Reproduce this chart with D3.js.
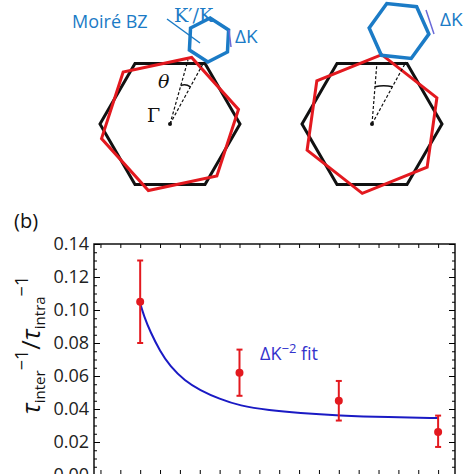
<!DOCTYPE html>
<html><head><meta charset="utf-8">
<script src="https://cdn.jsdelivr.net/npm/d3@7"></script>
<style>body{margin:0;background:#fff}</style></head>
<body><div id="wrapper"></div>
<script>
// data
const dk = [1, 2, 3, 4]
const ratio = [0.105, 0.062, 0.045, 0.026]
const errLo = [0.080, 0.048, 0.033, 0.017]
const errHi = [0.130, 0.076, 0.057, 0.036]
const fitX = [1, 1.04, 1.1, 1.2, 1.3, 1.45, 1.6, 1.8, 2.0, 2.3, 2.6, 3, 3.5, 4]
const fitY = [0.104, 0.096, 0.087, 0.075, 0.066, 0.057, 0.0515, 0.046, 0.042, 0.0392, 0.0375, 0.036, 0.035, 0.0345]
const yTicks = [0, 0.02, 0.04, 0.06, 0.08, 0.10, 0.12, 0.14]

const W = 474, H = 474
const svg = d3.select("#wrapper").append("svg").attr("width", W).attr("height", H)

// ---- panel (a) diagrams
function hexPts(cx, cy, r, rotDeg) {
    return d3.range(6).map(i => {
        const a = (i * 60 - rotDeg) * Math.PI / 180
        return [cx + r * Math.cos(a), cy + r * Math.sin(a)]
    })
}
function hex(cx, cy, r, rot, color, w) {
    svg.append("polygon").attr("points", hexPts(cx, cy, r, rot).join(" "))
        .attr("fill", "none").attr("stroke", color).attr("stroke-width", w).attr("stroke-linejoin", "miter")
}
const red = "#e3191f", blue = "#1b7bc6"
const diagrams = [
    {cx: 170, cy: 124, rot: 12, bx: 209, by: 40, br: 22, brot: 27, d1: [188, 60], d2: [204, 62]},
    {cx: 372, cy: 124, rot: 22, bx: 399, by: 31, br: 30, brot: -6, d1: [377, 62], d2: [406, 62]}
]
diagrams.forEach(d => {
    hex(d.cx, d.cy, 70, 0, "#111", 3)
    hex(d.cx, d.cy, 70, d.rot, red, 3)
    hex(d.bx, d.by, d.br, d.brot, blue, 3.5)
    ;[d.d1, d.d2].forEach(p => svg.append("line").attr("x1", d.cx).attr("y1", d.cy)
        .attr("x2", p[0]).attr("y2", p[1]).attr("stroke", "#111").attr("stroke-dasharray", "3,2").attr("stroke-width", 1.2))
    svg.append("circle").attr("cx", d.cx).attr("cy", d.cy).attr("r", 2).attr("fill", "#111")
    const ax = d.cx + (d.d1[0] - d.cx) * 0.6, ay = d.cy + (d.d1[1] - d.cy) * 0.6
    const bx = d.cx + (d.d2[0] - d.cx) * 0.6, by = d.cy + (d.d2[1] - d.cy) * 0.6
    svg.append("path").attr("d", `M${ax},${ay} Q${(ax + bx) / 2},${ay - 2} ${bx},${by}`)
        .attr("fill", "none").attr("stroke", "#111").attr("stroke-width", 1.5)
})
// ΔK arrows
svg.append("line").attr("x1", 229).attr("y1", 30).attr("x2", 231).attr("y2", 47).attr("stroke", "#6a6ad8").attr("stroke-width", 1.5)
svg.append("line").attr("x1", 426).attr("y1", 10).attr("x2", 434).attr("y2", 34).attr("stroke", "#6a6ad8").attr("stroke-width", 1.5)
svg.append("line").attr("x1", 167).attr("y1", 19).attr("x2", 200).attr("y2", 43).attr("stroke", blue).attr("stroke-width", 1.5)

const txt = (x, y, s, opt = {}) => svg.append("text").attr("x", x).attr("y", y).text(s)
    .attr("font-family", opt.ff || "Open Sans, sans-serif").attr("font-size", opt.fs || 16)
    .attr("fill", opt.fill || "#111").attr("font-style", opt.it ? "italic" : null)
txt(72, 28, "Moiré BZ", {fill: blue, fs: 18})
txt(174, 22, "K′/K", {fill: blue, fs: 19, ff: "DejaVu Serif, serif"})
txt(235, 43, "ΔK", {fill: blue, fs: 19})
txt(440, 26, "ΔK", {fill: blue, fs: 19})
txt(158, 88, "θ", {fs: 19, it: true, ff: "DejaVu Serif, serif"})
txt(147, 122, "Γ", {fs: 19, ff: "DejaVu Serif, serif"})
txt(14, 228, "(b)", {fs: 20})

// ---- panel (b) plot
const pLeft = 94, pRight = 455, pTop = 244
const x = d3.scaleLinear().domain([0.535, 4.17]).range([pLeft, pRight])
const y = d3.scaleLinear().domain([0, 0.14]).range([475, pTop])
const g = svg.append("g")
g.append("rect").attr("x", pLeft).attr("y", pTop).attr("width", pRight - pLeft).attr("height", 475 - pTop)
    .attr("fill", "none").attr("stroke", "#111").attr("stroke-width", 1.5)
g.append("g").attr("transform", `translate(${pLeft},0)`)
    .call(d3.axisLeft(y).tickValues(yTicks).tickFormat(d3.format(".2f")).tickSize(-6).tickPadding(5))
    .call(a => a.select(".domain").remove())
    .selectAll("text").attr("font-size", 18).attr("font-family", "Open Sans, sans-serif").attr("fill", "#222")
g.append("g").attr("transform", `translate(${pLeft},0)`)
    .call(d3.axisLeft(y).ticks(28).tickFormat("").tickSize(-3)).call(a => a.select(".domain").remove())
g.append("g").attr("transform", `translate(${pRight},0)`)
    .call(d3.axisRight(y).tickValues(yTicks).tickFormat("").tickSize(-6)).call(a => a.select(".domain").remove())
g.append("g").attr("transform", `translate(${pRight},0)`)
    .call(d3.axisRight(y).ticks(28).tickFormat("").tickSize(-3)).call(a => a.select(".domain").remove())
g.append("g").attr("transform", `translate(0,${pTop})`)
    .call(d3.axisTop(x).ticks(18).tickFormat("").tickSize(-4)).call(a => a.select(".domain").remove())
g.append("g").attr("transform", `translate(0,475)`)
    .call(d3.axisBottom(x).ticks(18).tickFormat("").tickSize(-5)).call(a => a.select(".domain").remove())

g.append("path").datum(fitX.map((v, i) => [v, fitY[i]]))
    .attr("d", d3.line().x(d => x(d[0])).y(d => y(d[1])).curve(d3.curveBasis))
    .attr("fill", "none").attr("stroke", "#1a1ac4").attr("stroke-width", 2)

dk.forEach((v, i) => {
    const px = x(v)
    g.append("line").attr("x1", px).attr("x2", px).attr("y1", y(errLo[i])).attr("y2", y(errHi[i]))
        .attr("stroke", red).attr("stroke-width", 2)
    ;[errLo[i], errHi[i]].forEach(e => g.append("line").attr("x1", px - 3).attr("x2", px + 3)
        .attr("y1", y(e)).attr("y2", y(e)).attr("stroke", red).attr("stroke-width", 2))
    g.append("circle").attr("cx", px).attr("cy", y(ratio[i])).attr("r", 4).attr("fill", red)
})

const lab = svg.append("text").attr("x", 260).attr("y", 360).attr("font-family", "Open Sans, sans-serif")
    .attr("font-size", 18).attr("fill", "#3333cc")
lab.append("tspan").text("ΔK")
lab.append("tspan").text("−2").attr("font-size", 13).attr("dy", -7)
lab.append("tspan").text(" fit").attr("dy", 7)

const yl = svg.append("text").attr("transform", "translate(40,345) rotate(-90)")
    .attr("text-anchor", "middle").attr("font-family", "Open Sans, sans-serif").attr("font-size", 20).attr("fill", "#111")
yl.append("tspan").text("τ").attr("font-style", "italic").attr("font-size", 26)
yl.append("tspan").text("inter").attr("font-size", 15).attr("dy", 5)
yl.append("tspan").text("−1").attr("font-size", 18).attr("dy", -17)
yl.append("tspan").text("/").attr("font-size", 26).attr("dy", 12)
yl.append("tspan").text("τ").attr("font-style", "italic").attr("font-size", 26)
yl.append("tspan").text("intra").attr("font-size", 15).attr("dy", 5)
yl.append("tspan").text("−1").attr("font-size", 18).attr("dy", -17)
</script></body></html>
